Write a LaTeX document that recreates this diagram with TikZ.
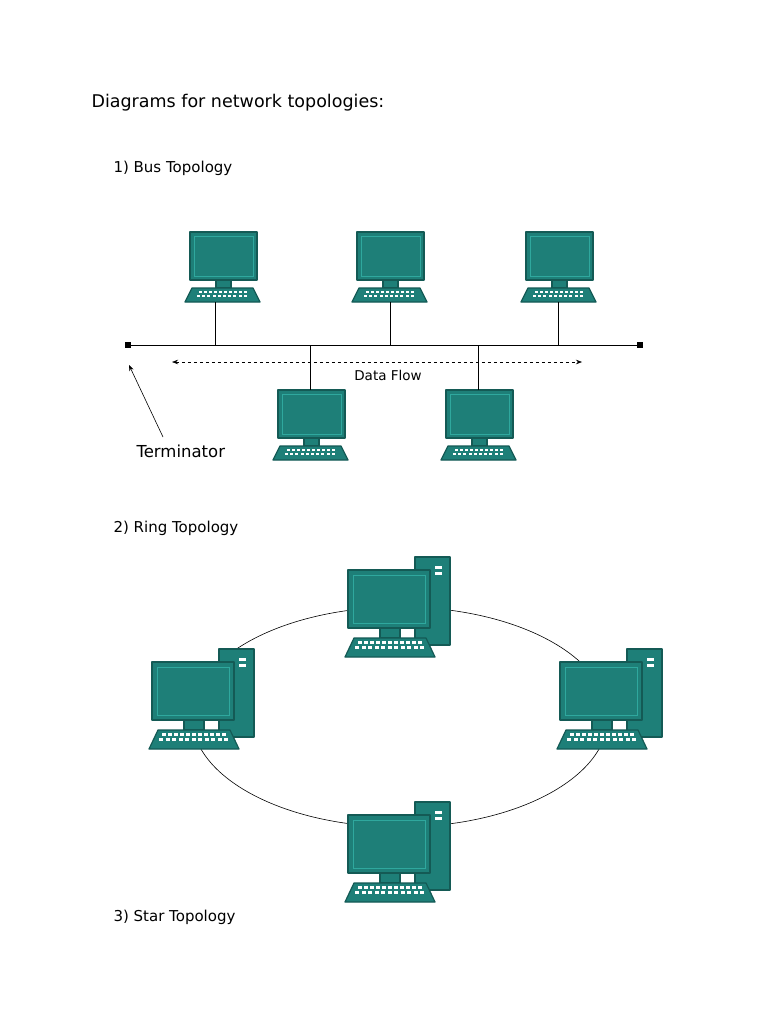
\documentclass[tikz,border=0pt]{standalone}
\usepackage{fontspec}
\setmainfont{DejaVu Sans}
\usetikzlibrary{arrows.meta}
\definecolor{teal1}{HTML}{1E7F78}
\definecolor{teal2}{HTML}{145A55}
\definecolor{teal3}{HTML}{2FA89E}
\tikzset{
 body/.style={fill=teal1,draw=teal2,line width=1.2pt,line join=round},
 lbl/.style={font=\fontsize{15pt}{17pt}\selectfont,anchor=west},
 pics/buspc/.style={code={
  \draw[body] (-33,0) rectangle (34,48);
  \draw[teal3,line width=0.6pt] (-29,4) rectangle (30,44);
  \draw[body] (-7,48) rectangle (8,56);
  \draw[body] (-31,56) -- (30,56) -- (37,70) -- (-38,70) -- cycle;
  \foreach \i in {0,...,9}{\fill[white] (-24+\i*5,59) rectangle ++(3,2);\fill[white] (-26+\i*5.2,63) rectangle ++(3,2);}
 }},
 pics/ringpc/.style={code={
  \draw[body] (67,-13) rectangle (102,75);
  \fill[white] (87,-4) rectangle ++(7,3);\fill[white] (87,2) rectangle ++(7,3);
  \draw[body] (0,0) rectangle (82,58);
  \draw[teal3,line width=0.7pt] (5,5) rectangle (77,53);
  \draw[body] (32,58) rectangle (52,68);
  \draw[body] (6,68) -- (78,68) -- (87,87) -- (-3,87) -- cycle;
  \foreach \i in {0,...,10}{\fill[white] (10+\i*6,71) rectangle ++(4,2.5);\fill[white] (7+\i*6.5,76) rectangle ++(4,2.5);}
 }}
}
\begin{document}
\begin{tikzpicture}[x=1pt,y=-1pt]
\useasboundingbox (0,0) rectangle (768,1024);
\fill[white] (0,0) rectangle (768,1024);
\node[lbl,font=\fontsize{17.5pt}{19pt}\selectfont] (title) at (88,103) {Diagrams for network topologies:};
\node[lbl] (l1) at (110,168) {1)\ Bus Topology};
\node[lbl] (l2) at (110,528) {2)\ Ring Topology};
\node[lbl] (l3) at (110,917) {3)\ Star Topology};
% bus
\coordinate (bL) at (128,345); \coordinate (bR) at (640,345);
\draw[line width=0.8pt] (bL) -- (bR);
\fill (bL) +(-3,-3) rectangle +(3,3);
\fill (bR) +(-3,-3) rectangle +(3,3);
\pic at (223,232) {buspc}; \pic at (390,232) {buspc}; \pic at (559,232) {buspc};
\pic at (311,390) {buspc}; \pic at (479,390) {buspc};
\foreach \x in {215,390,558}{\draw[line width=0.6pt] (\x,302) -- (\x,345);}
\foreach \x in {310,478}{\draw[line width=0.6pt] (\x,345) -- (\x,390);}
\coordinate (dA) at (172,362); \coordinate (dB) at (582,362);
\draw[dashed,line width=0.6pt,{Stealth[length=6pt]}-{Stealth[length=6pt]}] (dA) -- (dB);
\node (df) at (388,375) {\fontsize{13.5pt}{15pt}\selectfont Data Flow};
\node[anchor=west] (term) at (133,451) {\fontsize{16.5pt}{18pt}\selectfont Terminator};
\coordinate (tA) at (163,437);
\draw[line width=0.6pt,-{Stealth[length=6pt]}] (tA) -- (129,365);
% ring
\draw[line width=0.6pt] (400,717) ellipse [x radius=208, y radius=110];
\pic at (348,570) {ringpc};
\pic at (152,662) {ringpc};
\pic at (560,662) {ringpc};
\pic at (348,815) {ringpc};
\end{tikzpicture}
\end{document}
